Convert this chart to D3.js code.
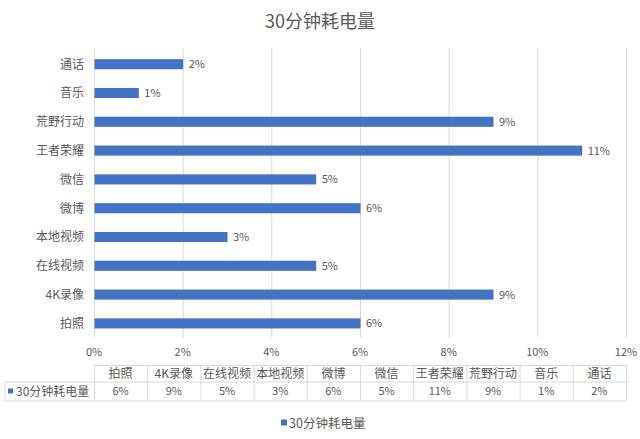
<!DOCTYPE html>
<html>
<head>
<meta charset="utf-8">
<script src="https://cdn.jsdelivr.net/npm/d3@7"></script>
<style>
  body { margin: 0; background: #fff; }
  svg { display: block; font-family: "Noto Sans CJK SC", "Noto Sans", sans-serif; }
</style>
</head>
<body>
<svg id="chart" width="640" height="439"></svg>
<script>
// dados do gráfico (ordem da tabela, de baixo para cima no gráfico)
const categories = ["拍照", "4K录像", "在线视频", "本地视频", "微博", "微信", "王者荣耀", "荒野行动", "音乐", "通话"];
const values = [6, 9, 5, 3, 6, 5, 11, 9, 1, 2];
const seriesName = "30分钟耗电量";
const xTicks = [0, 2, 4, 6, 8, 10, 12];

const svg = d3.select("#chart");
const width = +svg.attr("width");
const textColor = "#595959";
const gridColor = "#d9d9d9";
const barColor = "#4472C4";

const plot = { left: 94, right: 626, top: 49.8, bottom: 337.8 };

const x = d3.scaleLinear().domain([0, 12]).range([plot.left, plot.right]);

// categoria do topo é a última da lista
const y = d3.scaleBand()
  .domain(categories.slice().reverse())
  .range([plot.top, plot.bottom])
  .paddingInner(0.65)
  .paddingOuter(0.325);

// título
svg.append("text")
  .attr("x", width / 2)
  .attr("y", 28)
  .attr("text-anchor", "middle")
  .attr("font-size", 18)
  .attr("fill", textColor)
  .text(seriesName);

// linhas de grade verticais
svg.append("g")
  .selectAll("line")
  .data(xTicks)
  .join("line")
  .attr("x1", d => x(d) + 0.5)
  .attr("x2", d => x(d) + 0.5)
  .attr("y1", plot.top - 2)
  .attr("y2", plot.bottom)
  .attr("stroke", gridColor)
  .attr("stroke-width", 1);

// rótulos do eixo x
svg.append("g")
  .selectAll("text")
  .data(xTicks)
  .join("text")
  .attr("x", d => x(d))
  .attr("y", 356)
  .attr("text-anchor", "middle")
  .attr("font-size", 11)
  .attr("fill", textColor)
  .text(d => d + "%");

// rótulos das categorias
svg.append("g")
  .selectAll("text")
  .data(categories)
  .join("text")
  .attr("x", 84)
  .attr("y", d => y(d) + y.bandwidth() / 2)
  .attr("dy", "0.36em")
  .attr("text-anchor", "end")
  .attr("font-size", 12)
  .attr("fill", textColor)
  .text(d => d);

const rows = categories.map((c, i) => ({ cat: c, val: values[i] }));

// barras
svg.append("g")
  .selectAll("rect")
  .data(rows)
  .join("rect")
  .attr("x", x(0) + 0.5)
  .attr("y", d => y(d.cat))
  .attr("width", d => x(d.val) - x(0))
  .attr("height", y.bandwidth())
  .attr("fill", barColor);

// rótulos de valor
svg.append("g")
  .selectAll("text")
  .data(rows)
  .join("text")
  .attr("x", d => x(d.val) + 6)
  .attr("y", d => y(d.cat) + y.bandwidth() / 2)
  .attr("dy", "0.36em")
  .attr("font-size", 11)
  .attr("fill", textColor)
  .text(d => d.val + "%");

// tabela de dados
const table = { left: 5, top: 365.5, mid: 382, bottom: 401 };
const colW = (plot.right - plot.left) / categories.length;
const tg = svg.append("g").attr("stroke", gridColor).attr("stroke-width", 1).attr("fill", "none");

tg.append("line").attr("x1", plot.left).attr("x2", plot.right).attr("y1", table.top).attr("y2", table.top);
tg.append("line").attr("x1", table.left).attr("x2", plot.right).attr("y1", table.mid).attr("y2", table.mid);
tg.append("line").attr("x1", table.left).attr("x2", plot.right).attr("y1", table.bottom).attr("y2", table.bottom);
tg.append("line").attr("x1", table.left).attr("x2", table.left).attr("y1", table.mid).attr("y2", table.bottom);
tg.selectAll("line.col")
  .data(d3.range(categories.length + 1))
  .join("line")
  .attr("class", "col")
  .attr("x1", i => plot.left + i * colW + 0.5)
  .attr("x2", i => plot.left + i * colW + 0.5)
  .attr("y1", table.top)
  .attr("y2", table.bottom);

svg.append("g")
  .selectAll("text")
  .data(categories)
  .join("text")
  .attr("x", (d, i) => plot.left + (i + 0.5) * colW)
  .attr("y", (table.top + table.mid) / 2)
  .attr("dy", "0.36em")
  .attr("text-anchor", "middle")
  .attr("font-size", 12)
  .attr("fill", textColor)
  .text(d => d);

svg.append("g")
  .selectAll("text")
  .data(values)
  .join("text")
  .attr("x", (d, i) => plot.left + (i + 0.5) * colW)
  .attr("y", (table.mid + table.bottom) / 2)
  .attr("dy", "0.36em")
  .attr("text-anchor", "middle")
  .attr("font-size", 11)
  .attr("fill", textColor)
  .text(d => d + "%");

// chave da legenda dentro da tabela
svg.append("rect")
  .attr("x", 8).attr("y", 388.5).attr("width", 5).attr("height", 5)
  .attr("fill", barColor);
svg.append("text")
  .attr("x", 16)
  .attr("y", (table.mid + table.bottom) / 2)
  .attr("dy", "0.36em")
  .attr("font-size", 12)
  .attr("fill", textColor)
  .text(seriesName);

// legenda inferior
svg.append("rect")
  .attr("x", 281).attr("y", 419.5).attr("width", 6).attr("height", 6)
  .attr("fill", barColor);
svg.append("text")
  .attr("x", 289)
  .attr("y", 423)
  .attr("dy", "0.36em")
  .attr("font-size", 12.5)
  .attr("fill", textColor)
  .text(seriesName);
</script>
</body>
</html>
